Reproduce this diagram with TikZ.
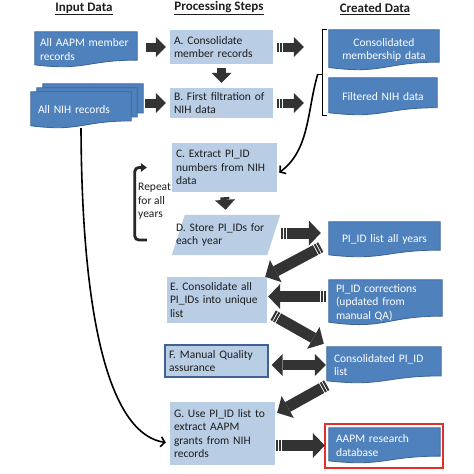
\documentclass[tikz,border=0pt]{standalone}
\usepackage{fontspec}
\setmainfont{Carlito}
\usetikzlibrary{arrows.meta,calc}
\pgfdeclarelayer{backdrop}
\pgfdeclarelayer{bg}
\pgfsetlayers{backdrop,bg,main}
\hyphenpenalty=10000
\definecolor{lightbox}{HTML}{B9CDE5}
\definecolor{docblue}{HTML}{4F81BD}
\definecolor{docedge}{HTML}{3A6598}
\definecolor{arrowgray}{HTML}{333333}
\definecolor{txtgray}{HTML}{1E1E1E}
\definecolor{fedge}{HTML}{3F6293}
\definecolor{redframe}{HTML}{E0302B}
\newcommand{\docshape}[1]{%
  \filldraw[docfill] (#1.north west) -- (#1.north east) -- ($(#1.north east)!0.8!(#1.south east)$)
   .. controls ($(#1.north)!0.8!(#1.south)$) and ($(#1.north)!1.107!(#1.south)$) ..
   ($(#1.north west)!0.934!(#1.south west)$) -- cycle;}
\tikzset{
  txt/.style={font=\fontsize{11.5}{13.5}\selectfont},
  hdr/.style={font=\fontsize{13}{15}\selectfont\bfseries, text=txtgray, inner sep=0pt},
  procbox/.style={txt, fill=lightbox, text=txtgray, inner xsep=4pt, inner ysep=2pt, align=left},
  docnode/.style={txt, text=white, inner xsep=6pt, inner ysep=2pt},
  docfill/.style={fill=docblue, draw=docedge, line width=0.8pt},
  barrow/.style={draw=arrowgray, line width=9pt,
     -{Triangle[length=10pt 0 0, width=20pt 0 0, line width=0pt]}},
  bigarrow/.style={draw=arrowgray, line width=11pt,
     -{Triangle[length=12pt 0 0, width=25pt 0 0, line width=0pt]}},
  dblarrow/.style={draw=arrowgray, line width=10pt,
     {Triangle[length=11pt 0 0, width=22pt 0 0, line width=0pt]}-{Triangle[length=11pt 0 0, width=22pt 0 0, line width=0pt]}},
  striped/.style={dash pattern=on 2pt off 1pt on 2pt off 1pt on 400pt off 1pt},
  curvearrow/.style={draw=black, line width=1.6pt, -{Straight Barb[length=4pt 0 0, width=10pt 0 0]}},
  repeatline/.style={draw=black!85, line width=2.8pt, rounded corners=4pt,
     -{Triangle[length=6pt 0 0, width=9pt 0 0, line width=0pt]}},
}
\begin{document}
\begin{tikzpicture}[x=1pt,y=-1pt]
\useasboundingbox (0,0) rectangle (474,474);
\begin{pgfonlayer}{backdrop}
\fill[white] (0,0) rectangle (474,474);
\end{pgfonlayer}

% headers
\node[hdr] (h1) at (84,9) {\underline{Input Data}};
\node[hdr] (h2) at (219,8) {\underline{Processing Steps}};
\node[hdr] (h3) at (375,9) {\underline{Created Data}};

% input documents
\node[docnode, inner xsep=5pt, minimum width=102pt, minimum height=35pt, text width=92pt, align=left] (AM) at (86,49.5) {All AAPM member\\records};
\node[minimum width=100pt, minimum height=36pt, inner sep=0pt] (NIH3) at (93,102) {};
\node[minimum width=100pt, minimum height=36pt, inner sep=0pt] (NIH2) at (87,106) {};
\node[docnode, minimum width=100pt, minimum height=36pt, text width=86pt, align=left] (NIH) at (81,110) {All NIH records};

% processing steps
\node[procbox, minimum width=103pt, minimum height=34pt, text width=95pt] (A) at (221.5,47) {A. Consolidate\\member records};
\node[procbox, minimum width=103pt, minimum height=30pt, text width=95pt] (B) at (221.5,103) {B. First filtration of\\NIH data};
\node[procbox, minimum width=105pt, minimum height=49pt, text width=97pt] (C) at (224.5,167.5) {C. Extract PI\_ID\\numbers from NIH\\data};
\node[txt, text=txtgray, inner xsep=4pt, minimum width=108pt, minimum height=40pt, text width=100pt, align=left] (D) at (226,235) {D. Store PI\_IDs for\\each year};
\node[procbox, minimum width=100pt, minimum height=46pt, text width=94pt, inner xsep=3pt] (E) at (217,300) {E. Consolidate all\\PI\_IDs into unique\\list};
\node[procbox, draw=fedge, line width=1.2pt, minimum width=103pt, minimum height=32pt, text width=95pt] (F) at (216.5,361) {F. Manual Quality\\assurance};
\node[procbox, minimum width=105pt, minimum height=63pt, text width=97pt] (G) at (222.5,433.5) {G. Use PI\_ID list to\\extract AAPM\\grants from NIH\\records};

% created data
\node[docnode, minimum width=110pt, minimum height=40pt, text width=98pt, align=center] (CM) at (384,50) {Consolidated\\membership data};
\node[docnode, minimum width=108pt, minimum height=37pt, text width=96pt, align=center] (FN) at (383,96.5) {Filtered NIH data};
\node[docnode, minimum width=111pt, minimum height=35pt, text width=99pt, align=center] (PL) at (384.5,239.5) {PI\_ID list all years};
\node[docnode, inner xsep=7pt, minimum width=113pt, minimum height=45pt, text width=99pt, align=left] (PC) at (385.5,302.5) {PI\_ID corrections\\(updated from\\manual QA)};
\node[docnode, inner xsep=7pt, minimum width=114pt, minimum height=36pt, text width=100pt, align=left] (CP) at (384,365) {Consolidated PI\_ID\\list};
\node[docnode, inner xsep=7pt, minimum width=111pt, minimum height=35pt, text width=97pt, align=left] (AR) at (384.5,445.5) {AAPM research\\database};

\begin{pgfonlayer}{bg}
  \docshape{AM}
  \docshape{NIH3}
  \docshape{NIH2}
  \docshape{NIH}
  \docshape{CM}
  \docshape{FN}
  \docshape{PL}
  \docshape{PC}
  \docshape{CP}
  \docshape{AR}
  \fill[lightbox] (D.south west) -- ([xshift=13pt]D.north west) -- (D.north east) -- ([xshift=-13pt]D.south east) -- cycle;
\end{pgfonlayer}

% red frame
\draw[redframe, line width=1.5pt] ([xshift=-4pt,yshift=4pt]AR.north west) rectangle ([xshift=3pt,yshift=-5pt]AR.south east);

% block arrows
\draw[barrow, shorten <=9pt, shorten >=4pt] (AM.east |- A.west) -- (A.west);
\draw[barrow, shorten <=14pt, shorten >=4pt] (NIH.east |- B.west) -- (B.west);
\draw[barrow, shorten <=4pt, shorten >=5pt] (A.south) -- (B.north);
\draw[barrow, striped, shorten <=4pt, shorten >=25pt] (A.east) -- (CM.west |- A.east);
\draw[barrow, striped, shorten <=4pt, shorten >=25pt] (B.east) -- (FN.west |- B.east);
\draw[barrow, shorten <=5pt, shorten >=5pt] (C.south) -- (D.north);
\draw[bigarrow, striped, shorten <=1pt, shorten >=8pt] ([yshift=2pt]D.east) -- ([yshift=2pt]PL.west |- D.east);
\draw[bigarrow, striped] ([xshift=-8pt,yshift=10pt]PL.south west) -- ([xshift=-2pt]E.north east);
\draw[bigarrow, striped, shorten <=3pt, shorten >=1pt] ([yshift=6pt]PC.west) -- ([yshift=6pt]PC.west -| E.east);
\draw[bigarrow, striped] ([xshift=6pt,yshift=8pt]E.south east) -- ([xshift=-3pt,yshift=3pt]CP.north west);
\draw[dblarrow, shorten <=3pt, shorten >=1pt] ([yshift=-4pt]F.east) -- ([yshift=-4pt]CP.west |- F.east);
\draw[bigarrow, striped] ([xshift=0pt,yshift=-2pt]CP.south west) -- ([xshift=2pt,yshift=-11pt]G.north east);
\draw[bigarrow, striped, shorten <=1pt, shorten >=4pt] (G.east |- AR.west) -- (AR.west);

% bracket and curves
\draw[black, line width=0.8pt] ([xshift=-2pt]CM.north west) -| ([xshift=-6pt]FN.south west) -- ([xshift=-2pt]FN.south west);
\coordinate (bm) at ($([xshift=-6pt]CM.south west)!0.5!([xshift=-6pt]FN.north west)$);
\coordinate (brk) at ([xshift=-5pt]bm);
\draw[black, line width=0.8pt] (bm) -- (brk);
\draw[curvearrow] (brk) .. controls (307,110) and (310,150) .. ([xshift=2pt,yshift=-5pt]C.east);
\draw[curvearrow] (NIH.south) .. controls (82,340) and (115,435) .. ([xshift=-4pt,yshift=-9pt]G.west);

% repeat loop
\draw[repeatline] ([xshift=-25pt,yshift=-5pt]D.west) -- ++(-12,0) |- ([xshift=-25pt]C.west);
\node[txt, text=txtgray, anchor=north west, align=left, inner sep=0pt] (rep) at (138,183) {Repeat\\for all\\years};
\end{tikzpicture}
\end{document}
